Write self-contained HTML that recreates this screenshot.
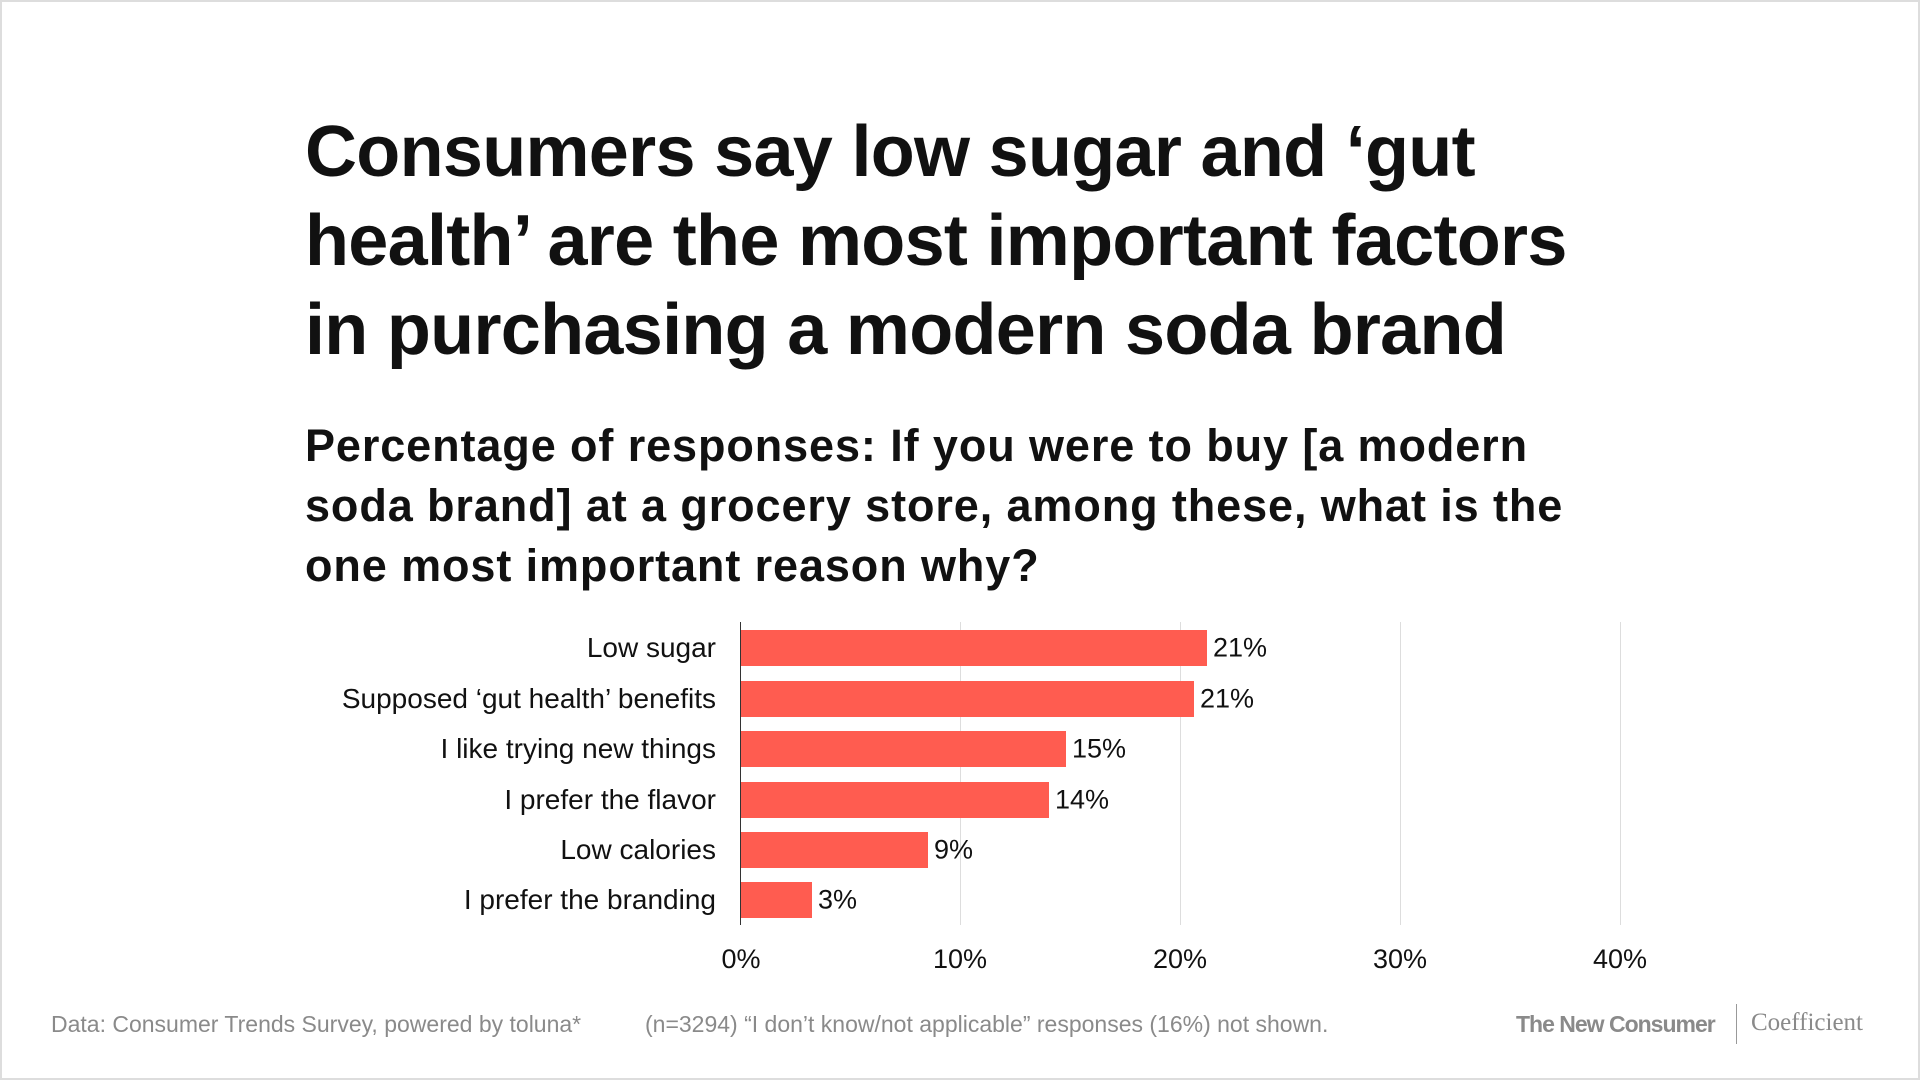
<!DOCTYPE html>
<html><head><meta charset="utf-8"><style>
body{margin:0;width:1920px;height:1080px;background:#fff;position:relative;overflow:hidden;font-family:"Liberation Sans",sans-serif;color:#111}
.frame{position:absolute;left:0;top:0;width:1916px;height:1076px;border:2px solid #ddd}
h1{position:absolute;left:305px;top:108px;margin:0;font-size:72px;line-height:89px;font-weight:bold;letter-spacing:-0.7px;white-space:nowrap}
h2{position:absolute;left:305px;top:416px;margin:0;font-size:45px;line-height:60px;font-weight:bold;letter-spacing:0.9px;white-space:nowrap}
.lab{position:absolute;right:1204px;font-size:28px;white-space:nowrap;transform:translateY(-50%)}
.bar{position:absolute;left:741px;height:36px;background:#FF5C50;transform:translateY(-50%)}
.val{position:absolute;font-size:27px;transform:translateY(-50%)}
.grid{position:absolute;top:622px;height:303px;width:1px;background:#ddd}
.tick{position:absolute;top:944px;font-size:27px;transform:translateX(-50%)}
.foot{position:absolute;top:1011px;font-size:23px;color:#8a8a8a;white-space:nowrap}
</style></head><body>
<div class="frame"></div>
<h1>Consumers say low sugar and ‘gut<br>health’ are the most important factors<br>in purchasing a modern soda brand</h1>
<h2>Percentage of responses: If you were to buy [a modern<br>soda brand] at a grocery store, among these, what is the<br>one most important reason why?</h2>
<div class="grid" style="left:960px"></div>
<div class="grid" style="left:1180px"></div>
<div class="grid" style="left:1400px"></div>
<div class="grid" style="left:1620px"></div>
<div class="grid" style="left:740px;background:#333"></div>

<div class="lab" style="top:648px">Low sugar</div>
<div class="bar" style="top:648px;width:466px"></div>
<div class="val" style="top:648px;left:1213px">21%</div>

<div class="lab" style="top:699px">Supposed ‘gut health’ benefits</div>
<div class="bar" style="top:699px;width:453px"></div>
<div class="val" style="top:699px;left:1200px">21%</div>

<div class="lab" style="top:749px">I like trying new things</div>
<div class="bar" style="top:749px;width:325px"></div>
<div class="val" style="top:749px;left:1072px">15%</div>

<div class="lab" style="top:800px">I prefer the flavor</div>
<div class="bar" style="top:800px;width:308px"></div>
<div class="val" style="top:800px;left:1055px">14%</div>

<div class="lab" style="top:850px">Low calories</div>
<div class="bar" style="top:850px;width:187px"></div>
<div class="val" style="top:850px;left:934px">9%</div>

<div class="lab" style="top:900px">I prefer the branding</div>
<div class="bar" style="top:900px;width:71px"></div>
<div class="val" style="top:900px;left:818px">3%</div>

<div class="tick" style="left:741px">0%</div>
<div class="tick" style="left:960px">10%</div>
<div class="tick" style="left:1180px">20%</div>
<div class="tick" style="left:1400px">30%</div>
<div class="tick" style="left:1620px">40%</div>

<div class="foot" style="left:51px">Data: Consumer Trends Survey, powered by toluna*</div>
<div class="foot" style="left:645px">(n=3294) “I don’t know/not applicable” responses (16%) not shown.</div>
<div class="foot" style="left:1516px;font-weight:bold;letter-spacing:-1px">The New Consumer</div>
<div style="position:absolute;left:1736px;top:1004px;width:1px;height:40px;background:#999"></div>
<div class="foot" style="left:1751px;font-family:'Liberation Serif',serif;font-size:25px;top:1009px">Coefficient</div>
</body></html>
